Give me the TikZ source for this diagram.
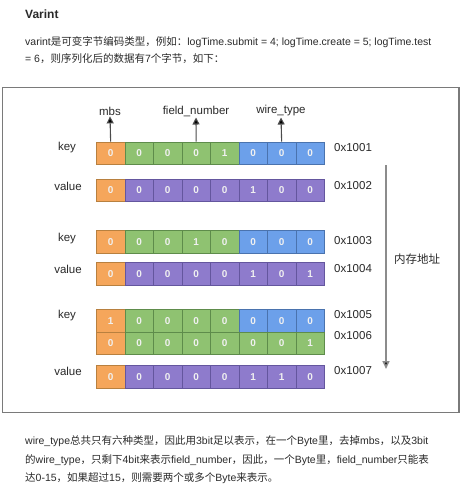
\documentclass[tikz,border=0pt]{standalone}
\usepackage{fontspec}
\setmainfont{Liberation Sans}
\newfontfamily\cjk{Noto Sans CJK SC}
\newcommand\zh[1]{{\cjk #1}}
\usetikzlibrary{arrows.meta}
\definecolor{orF}{HTML}{F5A65B}\definecolor{orD}{HTML}{B8803F}
\definecolor{grF}{HTML}{8FC271}\definecolor{grD}{HTML}{5E8C4B}
\definecolor{blF}{HTML}{6CA0EA}\definecolor{blD}{HTML}{4A73AE}
\definecolor{puF}{HTML}{8E7BCC}\definecolor{puD}{HTML}{64569E}
\definecolor{txt}{HTML}{2A2A2A}
\definecolor{frame}{HTML}{7A7A7A}
\tikzset{
  cell/.style={draw, line width=0.8pt, minimum width=28.5pt, minimum height=22.5pt, inner sep=0pt,
    anchor=north west, text=white!94!black, font=\fontsize{10}{12}\selectfont\bfseries},
  cellO/.style={cell, fill=orF, draw=orD},
  cellG/.style={cell, fill=grF, draw=grD},
  cellB/.style={cell, fill=blF, draw=blD},
  cellP/.style={cell, fill=puF, draw=puD},
  lab/.style={text=txt, font=\fontsize{11.5}{13}\selectfont, inner sep=1pt},
  addr/.style={lab, anchor=west},
  body/.style={text=txt, anchor=west, inner sep=0pt, font=\fontsize{10.5}{12}\selectfont},
  uparr/.style={draw=black!70, line width=1.1pt, -{Triangle[width=7pt,length=7pt,fill=black]}},
  memarr/.style={draw=black!45, line width=1.6pt, -{Triangle[width=7pt,length=8pt,fill=black]}},
}
\newcommand\byterow[3]{%
  \foreach \c/\b [count=\i] in {#3}
    \node[cell\c] (#1c\i) at ({96+(\i-1)*28.5}, #2) {\b};%
}
\begin{document}
\begin{tikzpicture}[x=1pt,y=-1pt]
\useasboundingbox (0,0) rectangle (474,501);
\fill[white] (0,0) rectangle (474,501);

% texts above
\node[anchor=west, inner sep=0pt, text=txt, font=\fontsize{12}{14}\selectfont\bfseries] (title) at (25,14) {Varint};
\node[body] (p1) at (25,42) {varint\zh{是可变字节编码类型，例如：}logTime.submit = 4; logTime.create = 5; logTime.test};
\node[body] (p2) at (25,59) {= 6\zh{，则序列化后的数据有}7\zh{个字节，如下：}};

% frame
\draw[frame, line width=1.5pt] (2.5,87.5) rectangle (459,412.5);

% rows
\byterow{r1}{141.7}{O/0,G/0,G/0,G/0,G/1,B/0,B/0,B/0}
\byterow{r2}{178.7}{O/0,P/0,P/0,P/0,P/0,P/1,P/0,P/0}
\byterow{r3}{230.2}{O/0,G/0,G/0,G/1,G/0,B/0,B/0,B/0}
\byterow{r4}{262.3}{O/0,P/0,P/0,P/0,P/0,P/1,P/0,P/1}
\byterow{r5}{309.2}{O/1,G/0,G/0,G/0,G/0,B/0,B/0,B/0}
\byterow{r6}{331.7}{O/0,G/0,G/0,G/0,G/0,G/0,G/0,G/1}
\byterow{r7}{365.2}{O/0,P/0,P/0,P/0,P/0,P/1,P/1,P/0}

% left labels
\node[lab] (k1) at (67,148) {key};
\node[lab] (v1) at (68,186) {value};
\node[lab] (k2) at (67,239) {key};
\node[lab] (v2) at (68,269) {value};
\node[lab] (k3) at (67,316) {key};
\node[lab] (v3) at (68,371) {value};

% addresses
\node[addr] (a1) at (333,148) {0x1001};
\node[addr] (a2) at (333,186) {0x1002};
\node[addr] (a3) at (333,241) {0x1003};
\node[addr] (a4) at (333,269) {0x1004};
\node[addr] (a5) at (333,315) {0x1005};
\node[addr] (a6) at (333,336) {0x1006};
\node[addr] (a7) at (333,371) {0x1007};

% top labels and arrows
\node[lab] (mbs) at (110,111) {mbs};
\node[lab] (fn) at (196,111) {field\_number};
\node[lab] (wt) at (281,111) {wire\_type};
\draw[uparr] (r1c1.north) -- (mbs.south);
\draw[uparr] (r1c4.north) -- (fn.south);
\draw[uparr] (r1c7.north) -- (wt.south);

% memory address arrow
\coordinate (mtop) at (386,165);
\coordinate (mbot) at (386,369);
\draw[memarr] (mtop) -- (mbot);
\node[lab, anchor=west] (mem) at (393,259) {\zh{内存地址}};

% texts below
\node[body] (q1) at (25,441) {wire\_type\zh{总共只有六种类型，因此用}3bit\zh{足以表示，在一个}Byte\zh{里，去掉}mbs\zh{，以及}3bit};
\node[body] (q2) at (25,460) {\zh{的}wire\_type\zh{，只剩下}4bit\zh{来表示}field\_number\zh{，因此，一个}Byte\zh{里，}field\_number\zh{只能表}};
\node[body] (q3) at (25,478) {\zh{达}0-15\zh{，如果超过}15\zh{，则需要两个或多个}Byte\zh{来表示。}};
\end{tikzpicture}
\end{document}
